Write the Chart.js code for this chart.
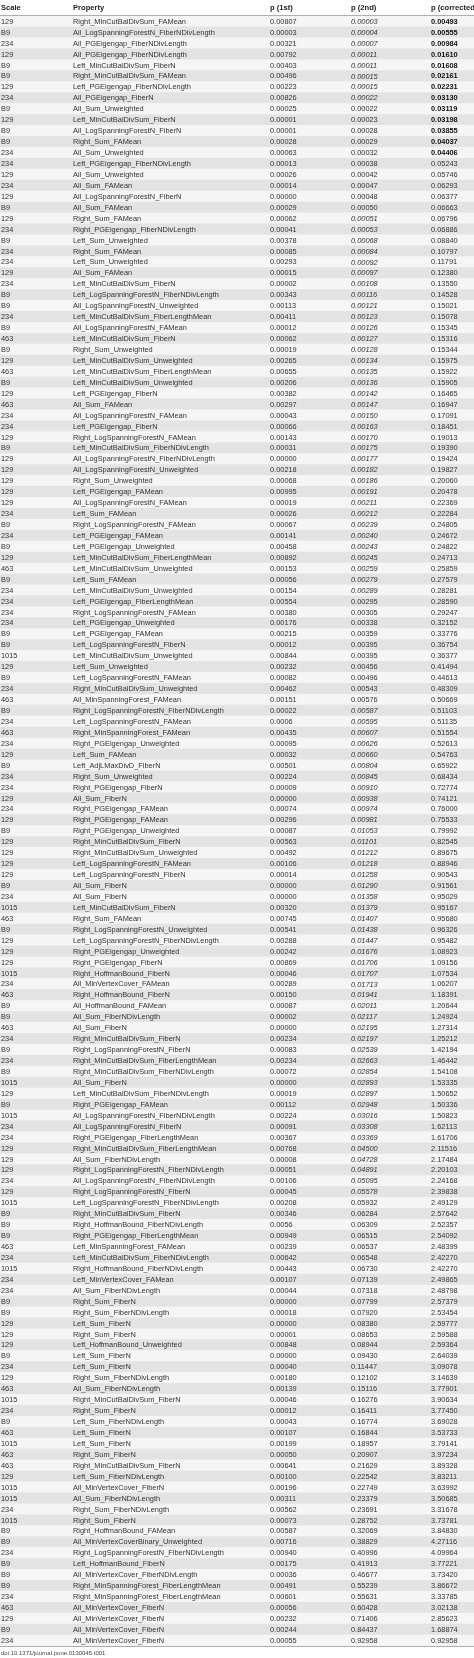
<!DOCTYPE html>
<html><head><meta charset="utf-8">
<script src="https://cdn.jsdelivr.net/npm/chart.js@4"></script>
<style>html,body{margin:0;padding:0;background:#fff}canvas{display:block}</style>
</head><body>
<canvas id="c" width="474" height="1658"></canvas>
<script>
const headers = ["Scale","Property","p (1st)","p (2nd)","p (corrected)"];
const scales = ["129","B9","234","129","B9","B9","129","234","B9","129","B9","B9","234","234","129","234","129","B9","129","234","B9","234","234","129","234","B9","B9","234","B9","463","B9","129","463","B9","129","463","234","234","129","B9","129","129","129","129","129","234","B9","234","B9","129","463","B9","234","234","234","234","B9","B9","1015","129","B9","234","463","B9","234","463","234","129","B9","234","234","129","234","129","B9","129","129","129","129","B9","234","1015","463","B9","129","129","129","1015","234","463","B9","B9","463","234","B9","234","B9","1015","129","B9","1015","234","234","129","129","129","234","129","1015","B9","B9","B9","463","234","1015","234","234","B9","B9","129","129","129","B9","234","129","463","1015","234","B9","463","1015","463","463","129","1015","1015","234","1015","B9","B9","234","B9","B9","B9","234","463","129","B9","234"];
const properties = ["Right_MinCutBalDivSum_FAMean","All_LogSpanningForestN_FiberNDivLength","All_PGEigengap_FiberNDivLength","All_PGEigengap_FiberNDivLength","Left_MinCutBalDivSum_FiberN","Right_MinCutBalDivSum_FAMean","Left_PGEigengap_FiberNDivLength","All_PGEigengap_FiberN","All_Sum_Unweighted","Left_MinCutBalDivSum_FiberN","All_LogSpanningForestN_FiberN","Right_Sum_FAMean","All_Sum_Unweighted","Left_PGEigengap_FiberNDivLength","All_Sum_Unweighted","All_Sum_FAMean","All_LogSpanningForestN_FiberN","All_Sum_FAMean","Right_Sum_FAMean","Right_PGEigengap_FiberNDivLength","Left_Sum_Unweighted","Right_Sum_FAMean","Left_Sum_Unweighted","All_Sum_FAMean","Left_MinCutBalDivSum_FiberN","Left_LogSpanningForestN_FiberNDivLength","All_LogSpanningForestN_Unweighted","Left_MinCutBalDivSum_FiberLengthMean","All_LogSpanningForestN_FAMean","Left_MinCutBalDivSum_FiberN","Right_Sum_Unweighted","Left_MinCutBalDivSum_Unweighted","Left_MinCutBalDivSum_FiberLengthMean","Left_MinCutBalDivSum_Unweighted","Left_PGEigengap_FiberN","All_Sum_FAMean","All_LogSpanningForestN_FAMean","Left_PGEigengap_FiberN","Right_LogSpanningForestN_FAMean","Left_MinCutBalDivSum_FiberNDivLength","All_LogSpanningForestN_FiberNDivLength","All_LogSpanningForestN_Unweighted","Right_Sum_Unweighted","Left_PGEigengap_FAMean","All_LogSpanningForestN_FAMean","Left_Sum_FAMean","Right_LogSpanningForestN_FAMean","Left_PGEigengap_FAMean","Left_PGEigengap_Unweighted","Left_MinCutBalDivSum_FiberLengthMean","Left_MinCutBalDivSum_Unweighted","Left_Sum_FAMean","Left_MinCutBalDivSum_Unweighted","Left_PGEigengap_FiberLengthMean","Right_LogSpanningForestN_FAMean","Left_PGEigengap_Unweighted","Left_PGEigengap_FAMean","Left_LogSpanningForestN_FiberN","Left_MinCutBalDivSum_Unweighted","Left_Sum_Unweighted","Left_LogSpanningForestN_FAMean","Right_MinCutBalDivSum_Unweighted","All_MinSpanningForest_FAMean","Right_LogSpanningForestN_FiberNDivLength","Left_LogSpanningForestN_FAMean","Right_MinSpanningForest_FAMean","Right_PGEigengap_Unweighted","Left_Sum_FAMean","Left_AdjLMaxDivD_FiberN","Right_Sum_Unweighted","Right_PGEigengap_FiberN","All_Sum_FiberN","Right_PGEigengap_FAMean","Right_PGEigengap_FAMean","Right_PGEigengap_Unweighted","Right_MinCutBalDivSum_FiberN","Right_MinCutBalDivSum_Unweighted","Left_LogSpanningForestN_FAMean","Left_LogSpanningForestN_FiberN","All_Sum_FiberN","All_Sum_FiberN","Left_MinCutBalDivSum_FiberN","Right_Sum_FAMean","Right_LogSpanningForestN_Unweighted","Left_LogSpanningForestN_FiberNDivLength","Right_PGEigengap_Unweighted","Right_PGEigengap_FiberN","Right_HoffmanBound_FiberN","All_MinVertexCover_FAMean","Right_HoffmanBound_FiberN","All_HoffmanBound_FAMean","All_Sum_FiberNDivLength","All_Sum_FiberN","Right_MinCutBalDivSum_FiberN","Right_LogSpanningForestN_FiberN","Right_MinCutBalDivSum_FiberLengthMean","Right_MinCutBalDivSum_FiberNDivLength","All_Sum_FiberN","Left_MinCutBalDivSum_FiberNDivLength","Right_PGEigengap_FAMean","All_LogSpanningForestN_FiberNDivLength","All_LogSpanningForestN_FiberN","Right_PGEigengap_FiberLengthMean","Right_MinCutBalDivSum_FiberLengthMean","All_Sum_FiberNDivLength","Right_LogSpanningForestN_FiberNDivLength","All_LogSpanningForestN_FiberNDivLength","Right_LogSpanningForestN_FiberN","Left_LogSpanningForestN_FiberNDivLength","Right_MinCutBalDivSum_FiberN","Right_HoffmanBound_FiberNDivLength","Right_PGEigengap_FiberLengthMean","Left_MinSpanningForest_FAMean","Left_MinCutBalDivSum_FiberNDivLength","Right_HoffmanBound_FiberNDivLength","Left_MinVertexCover_FAMean","All_Sum_FiberNDivLength","Right_Sum_FiberN","Right_Sum_FiberNDivLength","Left_Sum_FiberN","Right_Sum_FiberN","Left_HoffmanBound_Unweighted","Left_Sum_FiberN","Left_Sum_FiberN","Right_Sum_FiberNDivLength","All_Sum_FiberNDivLength","Right_MinCutBalDivSum_FiberN","Right_Sum_FiberN","Left_Sum_FiberNDivLength","Left_Sum_FiberN","Left_Sum_FiberN","Right_Sum_FiberN","Right_MinCutBalDivSum_FiberN","Left_Sum_FiberNDivLength","All_MinVertexCover_FiberN","All_Sum_FiberNDivLength","Right_Sum_FiberNDivLength","Right_Sum_FiberN","Right_HoffmanBound_FAMean","All_MinVertexCoverBinary_Unweighted","Right_LogSpanningForestN_FiberNDivLength","Left_HoffmanBound_FiberN","All_MinVertexCover_FiberNDivLength","Right_MinSpanningForest_FiberLengthMean","Right_MinSpanningForest_FiberLengthMean","All_MinVertexCover_FiberN","All_MinVertexCover_FiberN","All_MinVertexCover_FiberN","All_MinVertexCover_FiberN"];
const p1st = ["0.00807","0.00003","0.00321","0.00792","0.00403","0.00496","0.00223","0.00826","0.00025","0.00001","0.00001","0.00028","0.00063","0.00013","0.00026","0.00014","0.00000","0.00029","0.00062","0.00041","0.00378","0.00085","0.00293","0.00015","0.00002","0.00343","0.00113","0.00411","0.00012","0.00062","0.00019","0.00265","0.00655","0.00206","0.00382","0.00297","0.00043","0.00066","0.00143","0.00031","0.00000","0.00218","0.00068","0.00995","0.00019","0.00026","0.00067","0.00141","0.00458","0.00892","0.00153","0.00056","0.00154","0.00554","0.00380","0.00176","0.00215","0.00012","0.00844","0.00232","0.00082","0.00462","0.00151","0.00022","0.0006","0.00435","0.00095","0.00032","0.00501","0.00224","0.00009","0.00000","0.00074","0.00296","0.00087","0.00563","0.00492","0.00106","0.00014","0.00000","0.00000","0.00320","0.00745","0.00541","0.00288","0.00242","0.00869","0.00046","0.00289","0.00150","0.00087","0.00002","0.00000","0.00234","0.00083","0.00234","0.00072","0.00000","0.00019","0.00112","0.00224","0.00091","0.00367","0.00768","0.00008","0.00051","0.00106","0.00045","0.00208","0.00346","0.0056","0.00949","0.00239","0.00642","0.00443","0.00107","0.00044","0.00000","0.00018","0.00000","0.00001","0.00848","0.00000","0.00040","0.00180","0.00139","0.00046","0.00012","0.00043","0.00107","0.00199","0.00050","0.00641","0.00100","0.00196","0.00311","0.00562","0.00073","0.00587","0.00716","0.00940","0.00175","0.00036","0.00491","0.00601","0.00056","0.00232","0.00244","0.00055"];
const p2nd = ["0.00003","0.00004","0.00007","0.00011","0.00011","0.00015","0.00015","0.00022","0.00022","0.00023","0.00028","0.00029","0.00032","0.00038","0.00042","0.00047","0.00048","0.00050","0.00051","0.00053","0.00068","0.00084","0.00092","0.00097","0.00108","0.00116","0.00121","0.00123","0.00126","0.00127","0.00128","0.00134","0.00135","0.00136","0.00142","0.00147","0.00150","0.00163","0.00170","0.00175","0.00177","0.00182","0.00186","0.00191","0.00211","0.00212","0.00239","0.00240","0.00243","0.00245","0.00259","0.00279","0.00289","0.00295","0.00305","0.00338","0.00359","0.00395","0.00395","0.00456","0.00496","0.00543","0.00576","0.00587","0.00595","0.00607","0.00626","0.00660","0.00804","0.00845","0.00910","0.00938","0.00974","0.00981","0.01053","0.01101","0.01212","0.01218","0.01258","0.01290","0.01358","0.01379","0.01407","0.01438","0.01447","0.01676","0.01706","0.01707","0.01713","0.01941","0.02011","0.02117","0.02195","0.02197","0.02539","0.02663","0.02854","0.02893","0.02897","0.02948","0.03016","0.03308","0.03369","0.04500","0.04728","0.04891","0.05095","0.05578","0.05932","0.06284","0.06309","0.06515","0.06537","0.06548","0.06730","0.07139","0.07318","0.07799","0.07920","0.08380","0.08653","0.08944","0.09430","0.11447","0.12102","0.15116","0.16276","0.16411","0.16774","0.16844","0.18957","0.20907","0.21629","0.22542","0.22749","0.23379","0.23691","0.28752","0.32069","0.38829","0.40996","0.41913","0.46677","0.55239","0.55631","0.60428","0.71406","0.84437","0.92958"];
const pCorrected = ["0.00493","0.00555","0.00984","0.01610","0.01608","0.02161","0.02231","0.03130","0.03119","0.03198","0.03855","0.04037","0.04406","0.05243","0.05746","0.06293","0.06377","0.06663","0.06796","0.06886","0.08840","0.10797","0.11791","0.12380","0.13550","0.14528","0.15021","0.15078","0.15345","0.15316","0.15344","0.15975","0.15922","0.15905","0.16465","0.16947","0.17091","0.18451","0.19013","0.19390","0.19424","0.19827","0.20060","0.20478","0.22369","0.22284","0.24805","0.24672","0.24822","0.24713","0.25859","0.27579","0.28281","0.28590","0.29247","0.32152","0.33776","0.36754","0.36377","0.41494","0.44613","0.48309","0.50669","0.51103","0.51135","0.51554","0.52613","0.54763","0.65922","0.68434","0.72774","0.74121","0.76000","0.75533","0.79992","0.82545","0.89675","0.88946","0.90543","0.91561","0.95029","0.95167","0.95680","0.96326","0.95482","1.08923","1.09156","1.07534","1.06207","1.18391","1.20644","1.24924","1.27314","1.25212","1.42194","1.46442","1.54108","1.53335","1.50652","1.50336","1.50823","1.62113","1.61706","2.11516","2.17484","2.20103","2.24168","2.39838","2.49129","2.57642","2.52357","2.54092","2.48399","2.42270","2.42270","2.49865","2.48798","2.57379","2.53454","2.59777","2.59588","2.59364","2.64039","3.09078","3.14639","3.77901","3.90634","3.77450","3.69028","3.53733","3.79141","3.97234","3.89328","3.83211","3.63992","3.50685","3.31678","3.73781","3.84830","4.27116","4.09964","3.77221","3.73420","3.86672","3.33785","3.02138","2.85623","1.68874","0.92958"];
const boldRows = 13;
const footer = "doi:10.1371/journal.pone.0130045.t001";

const n = properties.length;
const rowIdx = properties.map((_, i) => i);
const stripe = rowIdx.map(() => 1);
const colX = [1, 73, 270, 351, 431];
const italic2 = i => (i < 8) || (i >= 18 && i < 53) || (i >= 63 && i < 108);

const textPlugin = {
  id: 'tableText',
  afterDatasetsDraw(chart) {
    const ctx = chart.ctx, y = chart.scales.y, area = chart.chartArea;
    ctx.save();
    ctx.textBaseline = 'middle';
    ctx.fillStyle = '#222';
    ctx.font = 'bold 7.6px "Liberation Sans", Arial, sans-serif';
    headers.forEach((h, k) => ctx.fillText(h, colX[k], 7.5));
    ctx.strokeStyle = '#999'; ctx.lineWidth = 0.8;
    ctx.beginPath(); ctx.moveTo(0, area.top - 0.5); ctx.lineTo(474, area.top - 0.5);
    ctx.moveTo(0, area.bottom + 0.5); ctx.lineTo(474, area.bottom + 0.5); ctx.stroke();
    const base = '7.4px "Liberation Sans", Arial, sans-serif';
    for (let i = 0; i < n; i++) {
      const py = y.getPixelForValue(i) + 0.3;
      ctx.fillStyle = '#333';
      ctx.font = base;
      ctx.fillText(scales[i], colX[0], py);
      ctx.fillText(properties[i], colX[1], py);
      ctx.fillText(p1st[i], colX[2], py);
      ctx.font = (italic2(i) ? 'italic ' : '') + base;
      ctx.fillText(p2nd[i], colX[3], py);
      ctx.font = (i < boldRows ? 'bold ' : '') + base;
      ctx.fillStyle = i < boldRows ? '#111' : '#333';
      ctx.fillText(pCorrected[i], colX[4], py);
    }
    ctx.fillStyle = '#444';
    ctx.font = '6px "Liberation Sans", Arial, sans-serif';
    ctx.fillText(footer, 1, 1653);
    ctx.restore();
  }
};

new Chart(document.getElementById('c'), {
  type: 'bar',
  data: {
    labels: rowIdx,
    datasets: [{
      data: stripe,
      backgroundColor: rowIdx.map(i => i % 2 ? '#e3e3e3' : '#f5f5f5'),
      borderWidth: 0,
      barPercentage: 1,
      categoryPercentage: 1
    }]
  },
  options: {
    indexAxis: 'y',
    responsive: false,
    animation: false,
    layout: { padding: { top: 16, bottom: 12, left: 0, right: 0 } },
    plugins: { legend: { display: false }, tooltip: { enabled: false } },
    scales: {
      x: { display: false, min: 0, max: 1 },
      y: { display: false }
    }
  },
  plugins: [textPlugin]
});
</script>
</body></html>
